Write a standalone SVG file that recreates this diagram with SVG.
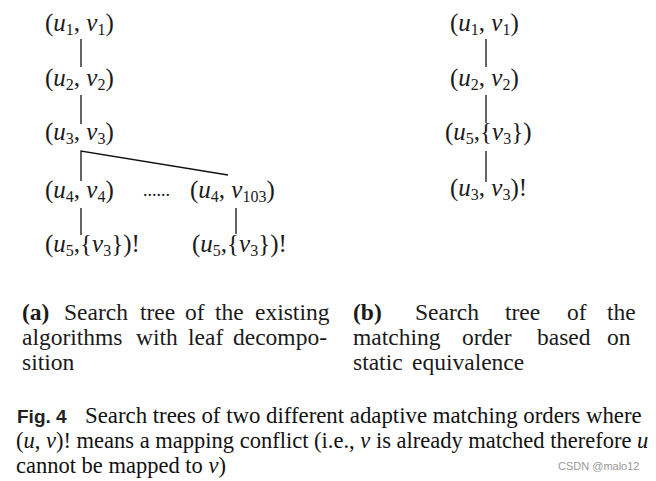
<svg xmlns="http://www.w3.org/2000/svg" width="656" height="481" viewBox="0 0 656 481">
<style>
.m{font-size:25px;fill:#1a1a1a}
.i{font-style:italic}
.s{font-size:16px}
.cap{font-size:23.5px;fill:#1a1a1a}
.b{font-weight:bold}
.fig{font-size:22.5px;fill:#111}
.figb{font-size:19px;font-weight:bold;fill:#222}
.wm{font-size:11px;fill:#999}
.e{stroke:#111;stroke-width:1.3;fill:none}
</style>
<rect width="656" height="481" fill="#fff"/>
<g id="connectors">
<line class="e" x1="81" y1="39" x2="81" y2="67"/>
<line class="e" x1="81" y1="95" x2="81" y2="124"/>
<polyline class="e" points="81,181 81,151 228,175"/>
<line class="e" x1="81" y1="208" x2="81" y2="235"/>
<line class="e" x1="236" y1="208" x2="236" y2="234"/>
<line class="e" x1="486" y1="39" x2="486" y2="67"/>
<line class="e" x1="486" y1="95" x2="486" y2="123"/>
<line class="e" x1="486" y1="151" x2="486" y2="182"/>
</g>
<g font-family="Liberation Serif, Tinos, Times New Roman, DejaVu Serif, Noto Serif, serif">
<g id="a-n1"><text class="m" x="45" y="31">(<tspan class="i">u</tspan><tspan class="s" dy="4">1</tspan><tspan dy="-4">, </tspan><tspan class="i">v</tspan><tspan class="s" dy="4">1</tspan><tspan dy="-4">)</tspan></text></g>
<g id="a-n2"><text class="m" x="45" y="86">(<tspan class="i">u</tspan><tspan class="s" dy="4">2</tspan><tspan dy="-4">, </tspan><tspan class="i">v</tspan><tspan class="s" dy="4">2</tspan><tspan dy="-4">)</tspan></text></g>
<g id="a-n3"><text class="m" x="45" y="140">(<tspan class="i">u</tspan><tspan class="s" dy="4">3</tspan><tspan dy="-4">, </tspan><tspan class="i">v</tspan><tspan class="s" dy="4">3</tspan><tspan dy="-4">)</tspan></text></g>
<g id="a-n4"><text class="m" x="45" y="198">(<tspan class="i">u</tspan><tspan class="s" dy="4">4</tspan><tspan dy="-4">, </tspan><tspan class="i">v</tspan><tspan class="s" dy="4">4</tspan><tspan dy="-4">)</tspan></text></g>
<g id="a-dots"><text class="cap" x="143" y="196" style="font-size:18px">......</text></g>
<g id="a-n4b"><text class="m" x="190" y="198">(<tspan class="i">u</tspan><tspan class="s" dy="4">4</tspan><tspan dy="-4">, </tspan><tspan class="i">v</tspan><tspan class="s" dy="4">103</tspan><tspan dy="-4">)</tspan></text></g>
<g id="a-n5"><text class="m" x="45" y="252">(<tspan class="i">u</tspan><tspan class="s" dy="4">5</tspan><tspan dy="-4">,{</tspan><tspan class="i">v</tspan><tspan class="s" dy="4">3</tspan><tspan dy="-4">})!</tspan></text></g>
<g id="a-n5b"><text class="m" x="192" y="252">(<tspan class="i">u</tspan><tspan class="s" dy="4">5</tspan><tspan dy="-4">,{</tspan><tspan class="i">v</tspan><tspan class="s" dy="4">3</tspan><tspan dy="-4">})!</tspan></text></g>
<g id="b-n1"><text class="m" x="450" y="31">(<tspan class="i">u</tspan><tspan class="s" dy="4">1</tspan><tspan dy="-4">, </tspan><tspan class="i">v</tspan><tspan class="s" dy="4">1</tspan><tspan dy="-4">)</tspan></text></g>
<g id="b-n2"><text class="m" x="450" y="86">(<tspan class="i">u</tspan><tspan class="s" dy="4">2</tspan><tspan dy="-4">, </tspan><tspan class="i">v</tspan><tspan class="s" dy="4">2</tspan><tspan dy="-4">)</tspan></text></g>
<g id="b-n3"><text class="m" x="445" y="140">(<tspan class="i">u</tspan><tspan class="s" dy="4">5</tspan><tspan dy="-4">,{</tspan><tspan class="i">v</tspan><tspan class="s" dy="4">3</tspan><tspan dy="-4">})</tspan></text></g>
<g id="b-n4"><text class="m" x="450" y="196">(<tspan class="i">u</tspan><tspan class="s" dy="4">3</tspan><tspan dy="-4">, </tspan><tspan class="i">v</tspan><tspan class="s" dy="4">3</tspan><tspan dy="-4">)!</tspan></text></g>
<g id="caption-a">
<text class="cap b" x="22" y="320">(a)</text>
<text class="cap" x="64" y="320">Search</text>
<text class="cap" x="140" y="320">tree</text>
<text class="cap" x="185" y="320">of</text>
<text class="cap" x="215" y="320">the</text>
<text class="cap" x="255" y="320">existing</text>
<text class="cap" x="22" y="345">algorithms</text>
<text class="cap" x="136" y="345">with</text>
<text class="cap" x="188" y="345">leaf</text>
<text class="cap" x="233" y="345">decompo-</text>
<text class="cap" x="22" y="370">sition</text>
</g>
<g id="caption-b">
<text class="cap b" x="353" y="320">(b)</text>
<text class="cap" x="415" y="320">Search</text>
<text class="cap" x="505" y="320">tree</text>
<text class="cap" x="567" y="320">of</text>
<text class="cap" x="607" y="320">the</text>
<text class="cap" x="353" y="345">matching</text>
<text class="cap" x="462" y="345">order</text>
<text class="cap" x="537" y="345">based</text>
<text class="cap" x="607" y="345">on</text>
<text class="cap" x="353" y="370">static</text>
<text class="cap" x="412" y="370">equivalence</text>
</g>
<g id="fig-caption">
<text class="figb" x="17" y="423" font-family="Liberation Sans, Arial, DejaVu Sans, sans-serif">Fig. 4</text>
<text class="fig" x="85" y="423" style="font-size:22.8px">Search trees of two different adaptive matching orders where</text>
<text class="fig" x="16" y="448">(<tspan class="i">u</tspan>, <tspan class="i">v</tspan>)! means a mapping conflict (i.e., <tspan class="i">v</tspan> is already matched therefore <tspan class="i">u</tspan></text>
<text class="fig" x="16" y="473">cannot be mapped to <tspan class="i">v</tspan>)</text>
<text class="wm" x="558" y="470" font-family="Liberation Sans, Arial, DejaVu Sans, sans-serif">CSDN @malo12</text>
</g>
</g>
</svg>
